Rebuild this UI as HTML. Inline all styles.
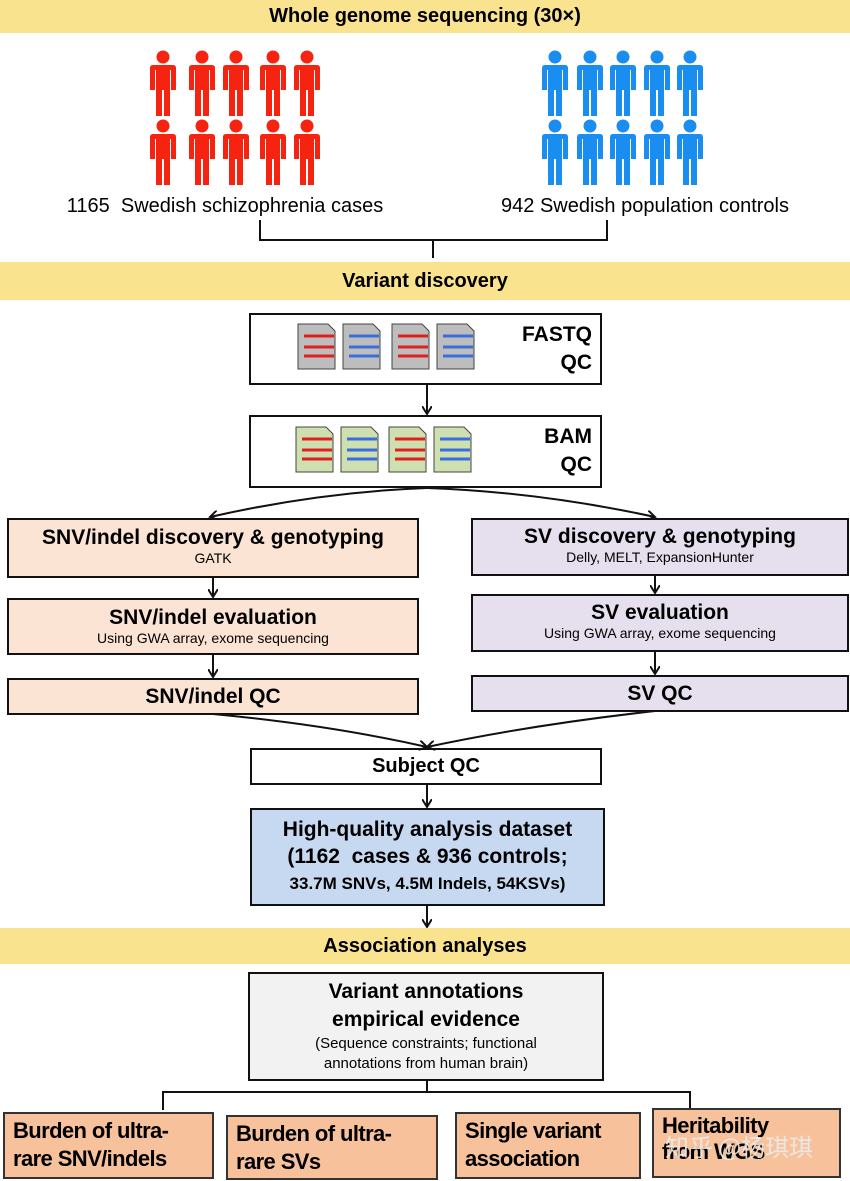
<!DOCTYPE html>
<html><head><meta charset="utf-8"><style>
body{margin:0;width:850px;height:1181px;background:#fff;position:relative;overflow:hidden;font-family:"Liberation Sans",Arial,sans-serif}
.a{position:absolute;box-sizing:border-box}
.ban{position:absolute;left:0;width:850px;background:#fae38e;font-weight:bold;font-size:20px;text-align:center}
.bx{position:absolute;box-sizing:border-box;border:2px solid #111;text-align:center;font-weight:bold}
.t{font-size:21px}
.s{font-size:14px;font-weight:normal}
.bot{position:absolute;box-sizing:border-box;border:2px solid #333;background:#f7c29b;font-weight:bold;font-size:22px;line-height:28px;padding:3px 8px;letter-spacing:-0.6px}
</style></head><body>
<div class="ban" style="top:0;height:33px;line-height:33px">Whole genome sequencing (30×)</div>
<svg class="a" style="left:0;top:0" width="850" height="1181">
<defs>
<g id="p"><circle cx="14" cy="7" r="6.5"/><path d="M4 15 h20 q3 0 3 3 v22 h-5 v-20 h-1 v46 h-6 v-26 h-2 v26 h-6 v-46 h-1 v20 h-5 v-22 q0-3 3-3z"/></g>
<g id="f"><path d="M0 0 h30 l7 7 v38 h-37z" stroke="#444" stroke-width="1"/></g>
<marker id="ar" markerWidth="10" markerHeight="10" refX="8" refY="5" orient="auto" markerUnits="userSpaceOnUse"><path d="M0 0 L8 5 L0 10" fill="none" stroke="#111" stroke-width="2"/></marker>
</defs>
<g fill="#f5230f">
<use href="#p" x="149" y="50"/><use href="#p" x="188" y="50"/><use href="#p" x="222" y="50"/><use href="#p" x="259" y="50"/><use href="#p" x="293" y="50"/>
<use href="#p" x="149" y="119"/><use href="#p" x="188" y="119"/><use href="#p" x="222" y="119"/><use href="#p" x="259" y="119"/><use href="#p" x="293" y="119"/>
</g>
<g fill="#1a8ef0">
<use href="#p" x="541" y="50"/><use href="#p" x="576" y="50"/><use href="#p" x="609" y="50"/><use href="#p" x="643" y="50"/><use href="#p" x="676" y="50"/>
<use href="#p" x="541" y="119"/><use href="#p" x="576" y="119"/><use href="#p" x="609" y="119"/><use href="#p" x="643" y="119"/><use href="#p" x="676" y="119"/>
</g>
<g fill="none" stroke="#111" stroke-width="2">
<path d="M260 220 v20 h347 v-20 M433 240 v18"/>
<path d="M427 384 V414" marker-end="url(#ar)"/>
<path d="M427 488 Q320 492 210 517" marker-end="url(#ar)"/>
<path d="M427 488 Q540 492 655 517" marker-end="url(#ar)"/>
<path d="M213 577 V597" marker-end="url(#ar)"/>
<path d="M213 654 V677" marker-end="url(#ar)"/>
<path d="M655 575 V593" marker-end="url(#ar)"/>
<path d="M655 651 V674" marker-end="url(#ar)"/>
<path d="M213 714 Q330 725 427 747" marker-end="url(#ar)"/>
<path d="M655 711 Q530 725 427 747" marker-end="url(#ar)"/>
<path d="M427 784 V807" marker-end="url(#ar)"/>
<path d="M427 905 V927" marker-end="url(#ar)"/>
<path d="M427 1080 v12 M163 1110 v-18 h527 v18"/>
</g>
</svg>
<div class="a" style="left:30px;top:195px;width:390px;text-align:center;font-size:20px">1165&nbsp; Swedish schizophrenia cases</div>
<div class="a" style="left:460px;top:195px;width:370px;text-align:center;font-size:20px">942 Swedish population controls</div>
<div class="ban" style="top:262px;height:38px;line-height:38px">Variant discovery</div>
<div class="bx" style="left:249px;top:313px;width:353px;height:72px"><div style="position:absolute;right:8px;top:6px;font-size:21px;text-align:right;line-height:28px">FASTQ<br>QC</div></div>
<div class="bx" style="left:249px;top:415px;width:353px;height:73px"><div style="position:absolute;right:8px;top:6px;font-size:21px;text-align:right;line-height:28px">BAM<br>QC</div></div>
<svg class="a" style="left:0;top:0" width="850" height="500">
<g fill="#bdbdbd"><use href="#f" x="298" y="324"/><use href="#f" x="343" y="324"/><use href="#f" x="392" y="324"/><use href="#f" x="437" y="324"/></g>
<g fill="#cfe0b0"><use href="#f" x="296" y="427"/><use href="#f" x="341" y="427"/><use href="#f" x="389" y="427"/><use href="#f" x="434" y="427"/></g>
<g stroke-width="3">
<g stroke="#e02020"><path d="M304 336h30M304 347h30M304 356h30M398 336h30M398 347h30M398 356h30M302 439h30M302 450h30M302 459h30M395 439h30M395 450h30M395 459h30"/></g>
<g stroke="#3a6ee0"><path d="M349 336h30M349 347h30M349 356h30M443 336h30M443 347h30M443 356h30M347 439h30M347 450h30M347 459h30M440 439h30M440 450h30M440 459h30"/></g>
</g>
</svg>
<div class="bx" style="left:7px;top:518px;width:412px;height:60px;background:#fbe4d3;padding-top:6px"><div class="t">SNV/indel discovery &amp; genotyping</div><div class="s">GATK</div></div>
<div class="bx" style="left:471px;top:518px;width:378px;height:58px;background:#e6e0ee;padding-top:5px"><div class="t">SV discovery &amp; genotyping</div><div class="s">Delly, MELT, ExpansionHunter</div></div>
<div class="bx" style="left:7px;top:598px;width:412px;height:57px;background:#fbe4d3;padding-top:6px"><div class="t">SNV/indel evaluation</div><div class="s">Using GWA array, exome sequencing</div></div>
<div class="bx" style="left:471px;top:594px;width:378px;height:58px;background:#e6e0ee;padding-top:5px"><div class="t">SV evaluation</div><div class="s">Using GWA array, exome sequencing</div></div>
<div class="bx" style="left:7px;top:678px;width:412px;height:37px;background:#fbe4d3;line-height:33px"><div class="t">SNV/indel QC</div></div>
<div class="bx" style="left:471px;top:675px;width:378px;height:37px;background:#e6e0ee;line-height:33px"><div class="t">SV QC</div></div>
<div class="bx" style="left:250px;top:748px;width:352px;height:37px;line-height:33px"><div class="t" style="font-size:20px">Subject QC</div></div>
<div class="bx" style="left:250px;top:808px;width:355px;height:98px;background:#c6d9f1;padding-top:6px;line-height:27px"><div class="t">High-quality analysis dataset</div><div class="t">(1162&nbsp; cases &amp; 936 controls;</div><div style="font-size:17px">33.7M SNVs, 4.5M Indels, 54KSVs)</div></div>
<div class="ban" style="top:928px;height:36px;line-height:36px">Association analyses</div>
<div class="bx" style="left:248px;top:972px;width:356px;height:109px;background:#f2f2f2;padding-top:4px;line-height:28px"><div class="t">Variant annotations</div><div class="t">empirical evidence</div><div class="s" style="font-size:15px;line-height:20px">(Sequence constraints; functional<br>annotations from human brain)</div></div>
<div class="bot" style="left:3px;top:1112px;width:211px;height:67px">Burden of ultra-<br>rare SNV/indels</div>
<div class="bot" style="left:226px;top:1115px;width:212px;height:65px">Burden of ultra-<br>rare SVs</div>
<div class="bot" style="left:455px;top:1112px;width:186px;height:67px">Single variant<br>association</div>
<div class="bot" style="left:652px;top:1108px;width:189px;height:70px;line-height:26px">Heritability<br>from WGS</div>
<div class="a" style="left:665px;top:1128px;font-size:24px;color:rgba(235,235,235,0.9);font-family:'Noto Sans CJK SC',sans-serif">知乎 @杨琪琪</div>
</body></html>
